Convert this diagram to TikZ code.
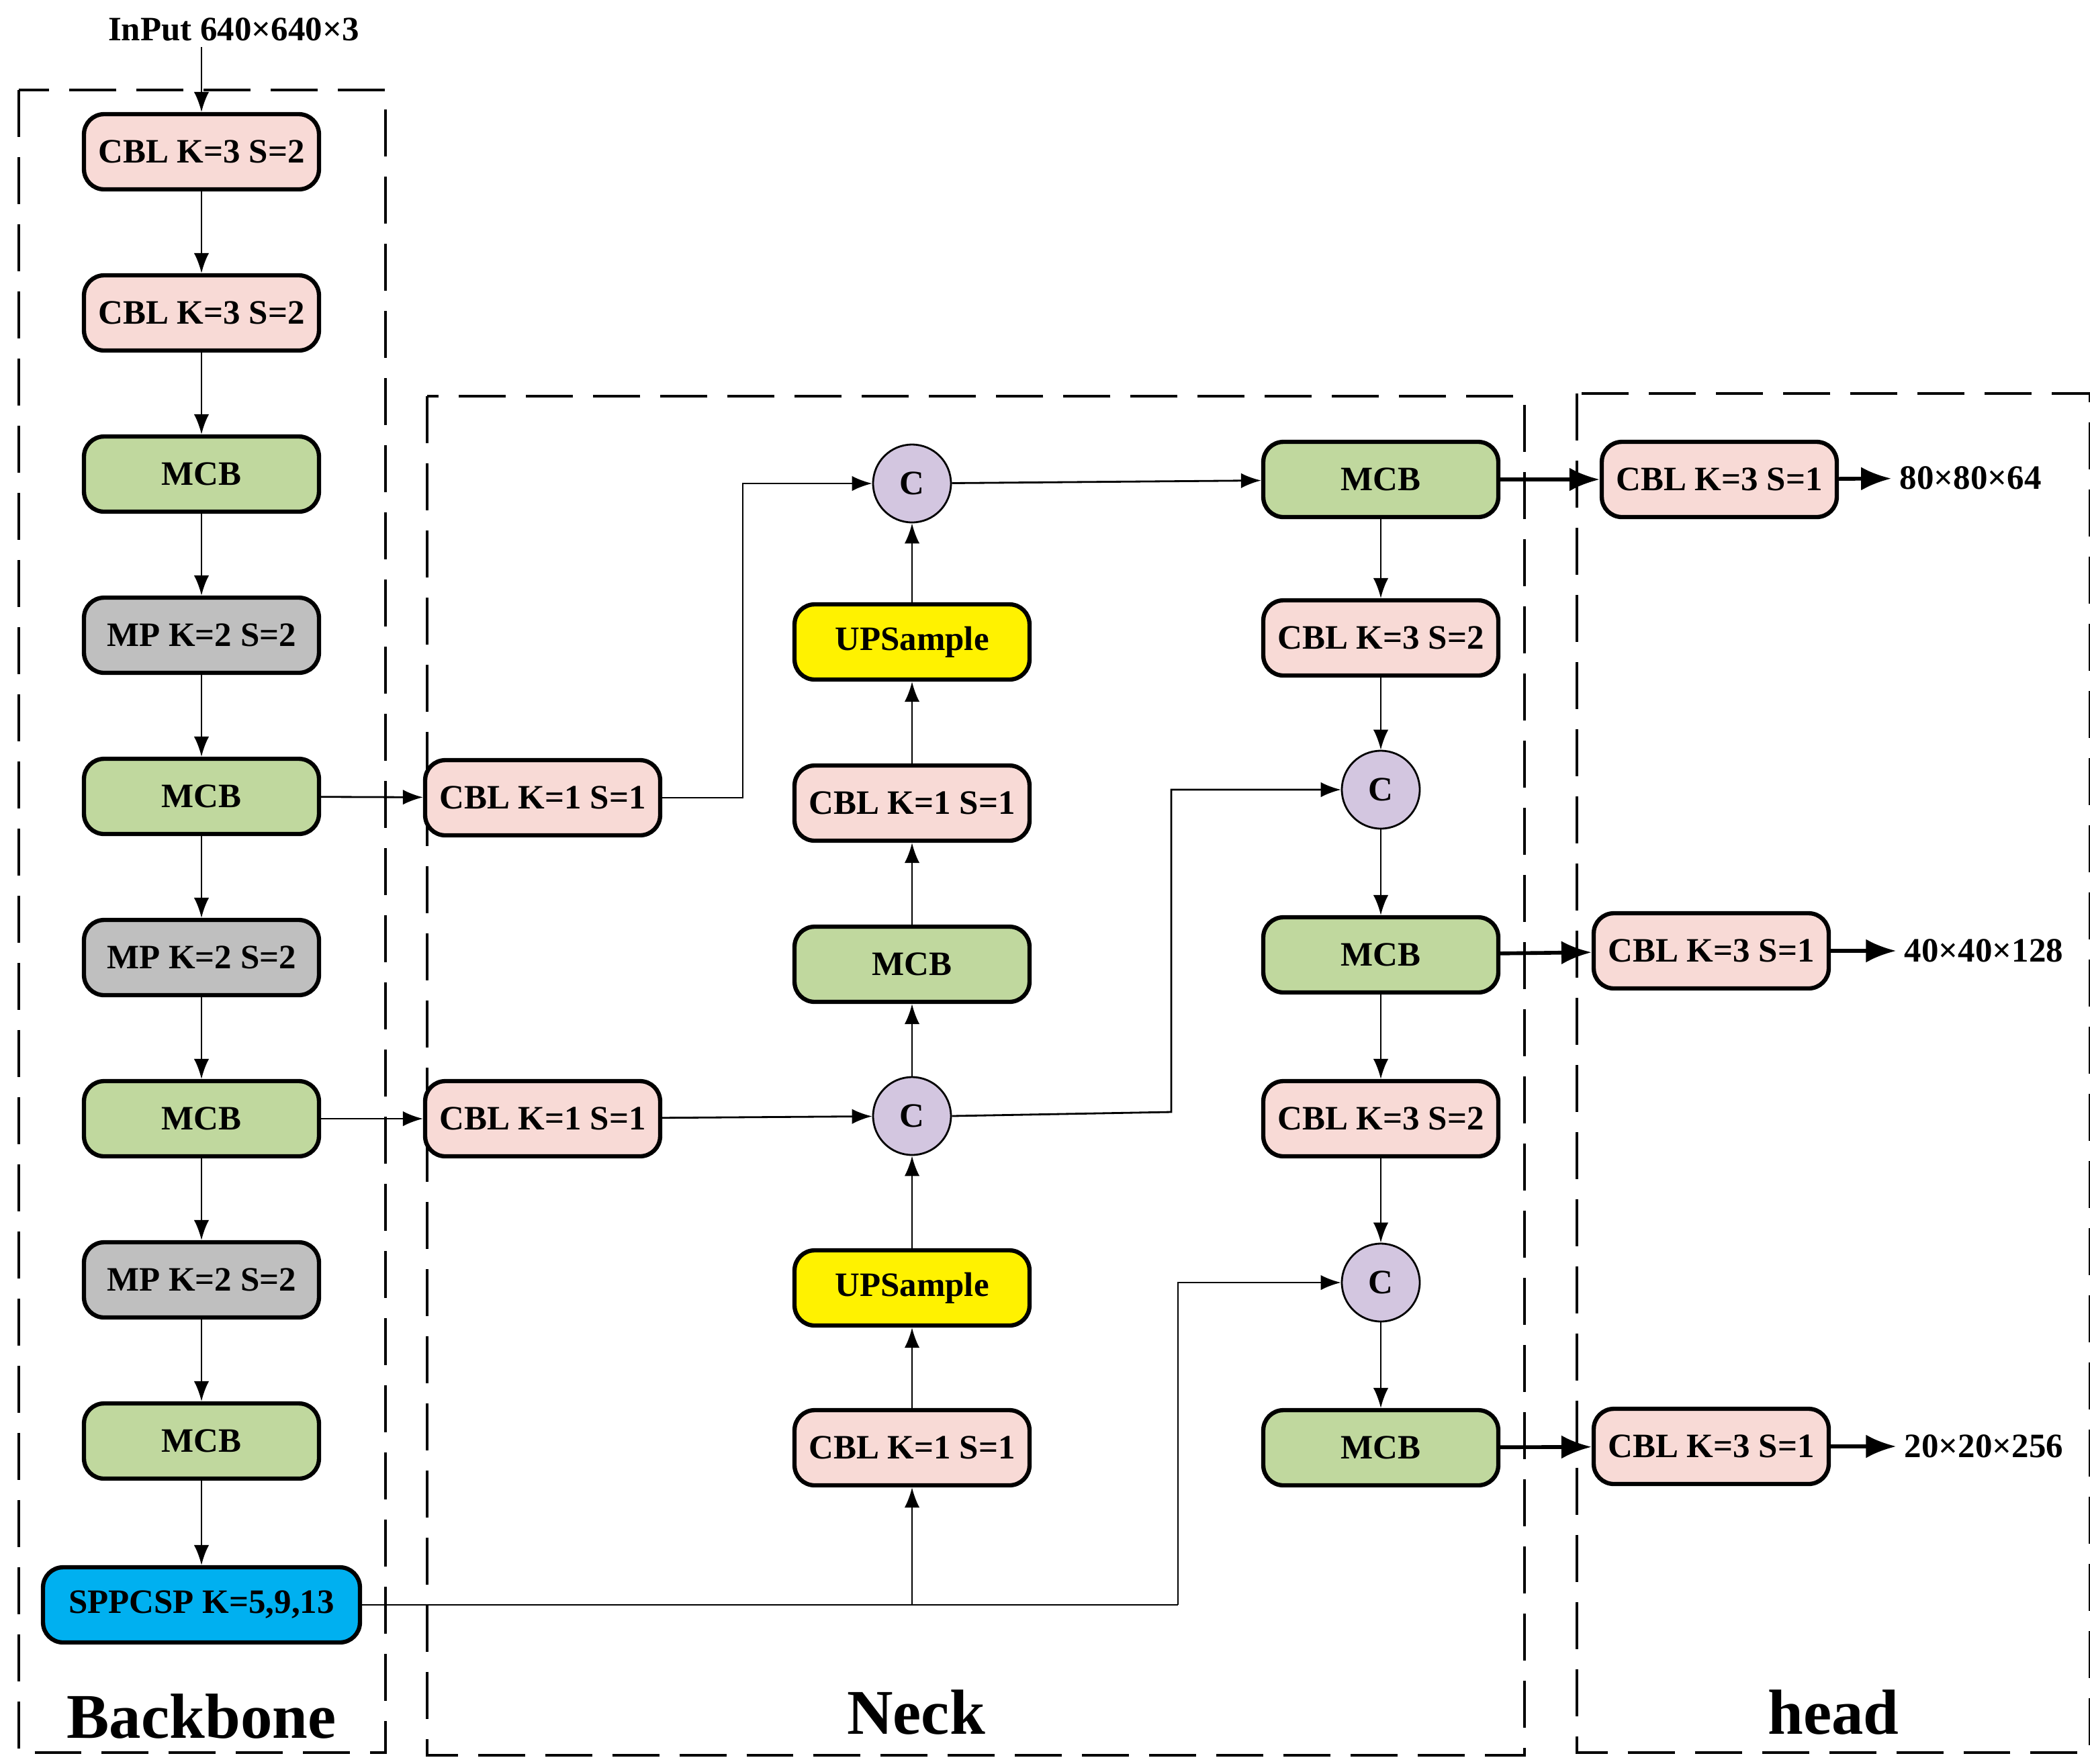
\documentclass[tikz,border=0pt]{standalone}
\usepackage{fontspec}
\setmainfont{Liberation Serif}
\usetikzlibrary{arrows.meta}
\definecolor{cblpink}{HTML}{F8DAD6}
\definecolor{mcbgreen}{HTML}{C0D89E}
\definecolor{mpgray}{HTML}{BFBFBF}
\definecolor{sppblue}{HTML}{00B0F0}
\definecolor{catpurple}{HTML}{D3C6E0}
\begin{document}
\begin{tikzpicture}[x=0.02cm, y=-0.02cm, font=\fontsize{14.5}{17}\selectfont\bfseries,
  box/.style = {draw, line width=1.8pt, rounded corners=0.3cm, minimum width=3.5cm, minimum height=1.12cm, inner sep=1pt},
  cbl/.style = {box, fill=cblpink},
  mcb/.style = {box, fill=mcbgreen},
  mp/.style = {box, fill=mpgray},
  up/.style = {box, fill=yellow},
  cat/.style = {draw, circle, thick, fill=catpurple, minimum size=1.16cm, inner sep=0pt},
  frame/.style = {line width=1.3pt, dash pattern=on 0.7cm off 0.3cm},
  arr/.style = {-{Latex[length=3mm]}, thick},
  harr/.style = {-{Latex[length=4.5mm,width=3.5mm]}, line width=1.6pt},
  big/.style = {font=\fontsize{27}{30}\selectfont\bfseries}]
\useasboundingbox (0,0) rectangle (1556,1313);
% frames
\draw[frame] (14,67) rectangle (287,1305);
\draw[frame] (318,295) rectangle (1135,1307);
\draw[frame] (1174,293) rectangle (1556,1305);
\node[big] (lbb) at (150,1278) {Backbone};
\node[big] (lneck) at (682,1275) {Neck};
\node[big] (lhead) at (1365,1275) {head};
% backbone
\node (in) at (174,22) {InPut 640×640×3};
\coordinate (inpt) at (150,35);
\node[cbl] (b1) at (150,113) {CBL K=3 S=2};
\node[cbl] (b2) at (150,233) {CBL K=3 S=2};
\node[mcb] (b3) at (150,353) {MCB};
\node[mp] (b4) at (150,473) {MP K=2 S=2};
\node[mcb] (b5) at (150,593) {MCB};
\node[mp] (b6) at (150,713) {MP K=2 S=2};
\node[mcb] (b7) at (150,833) {MCB};
\node[mp] (b8) at (150,953) {MP K=2 S=2};
\node[mcb] (b9) at (150,1073) {MCB};
\node[box, fill=sppblue, minimum width=4.72cm] (spp) at (150,1195) {SPPCSP K=5,9,13};
\draw[arr] (inpt) -- (b1);
\foreach \a/\b in {b1/b2,b2/b3,b3/b4,b4/b5,b5/b6,b6/b7,b7/b8,b8/b9,b9/spp}
  \draw[arr] (\a) -- (\b);
% neck
\node[cbl] (na) at (404,594) {CBL K=1 S=1};
\node[cbl] (nb) at (404,833) {CBL K=1 S=1};
\node[cat] (c1) at (679,360) {C};
\node[up] (u1) at (679,478) {UPSample};
\node[cbl] (m1) at (679,598) {CBL K=1 S=1};
\node[mcb] (m2) at (679,718) {MCB};
\node[cat] (c2) at (679,831) {C};
\node[up] (u2) at (679,959) {UPSample};
\node[cbl] (m3) at (679,1078) {CBL K=1 S=1};
\node[mcb] (r1) at (1028,357) {MCB};
\node[cbl] (r2) at (1028,475) {CBL K=3 S=2};
\node[cat] (c3) at (1028,588) {C};
\node[mcb] (r3) at (1028,711) {MCB};
\node[cbl] (r4) at (1028,833) {CBL K=3 S=2};
\node[cat] (c4) at (1028,955) {C};
\node[mcb] (r5) at (1028,1078) {MCB};
\draw[arr] (b5) -- (na);
\draw[arr] (b7) -- (nb);
\draw[arr] (na.east) -- (553,594) |- (c1);
\draw[arr] (nb) -- (c2);
\draw[thick] (spp.east) -- (877,1195);
\draw[arr] (679,1195) -- (m3);
\draw[arr] (877,1195) |- (c4);
\foreach \a/\b in {m3/u2,u2/c2,c2/m2,m2/m1,m1/u1,u1/c1,c1/r1,r1/r2,r2/c3,c3/r3,r3/r4,r4/c4,c4/r5}
  \draw[arr] (\a) -- (\b);
\draw[arr] (c2.east) -- (872,828) |- (c3);
% head
\node[cbl] (h1) at (1280,357) {CBL K=3 S=1};
\node[cbl] (h2) at (1274,708) {CBL K=3 S=1};
\node[cbl] (h3) at (1274,1077) {CBL K=3 S=1};
\node (o1) at (1467,356) {80×80×64};
\node (o2) at (1477,708) {40×40×128};
\node (o3) at (1477,1077) {20×20×256};
\draw[harr] (r1) -- (h1);
\draw[harr] (r3) -- (h2);
\draw[harr] (r5) -- (h3);
\draw[harr] (h1) -- (o1);
\draw[harr] (h2) -- (o2);
\draw[harr] (h3) -- (o3);
\end{tikzpicture}
\end{document}
